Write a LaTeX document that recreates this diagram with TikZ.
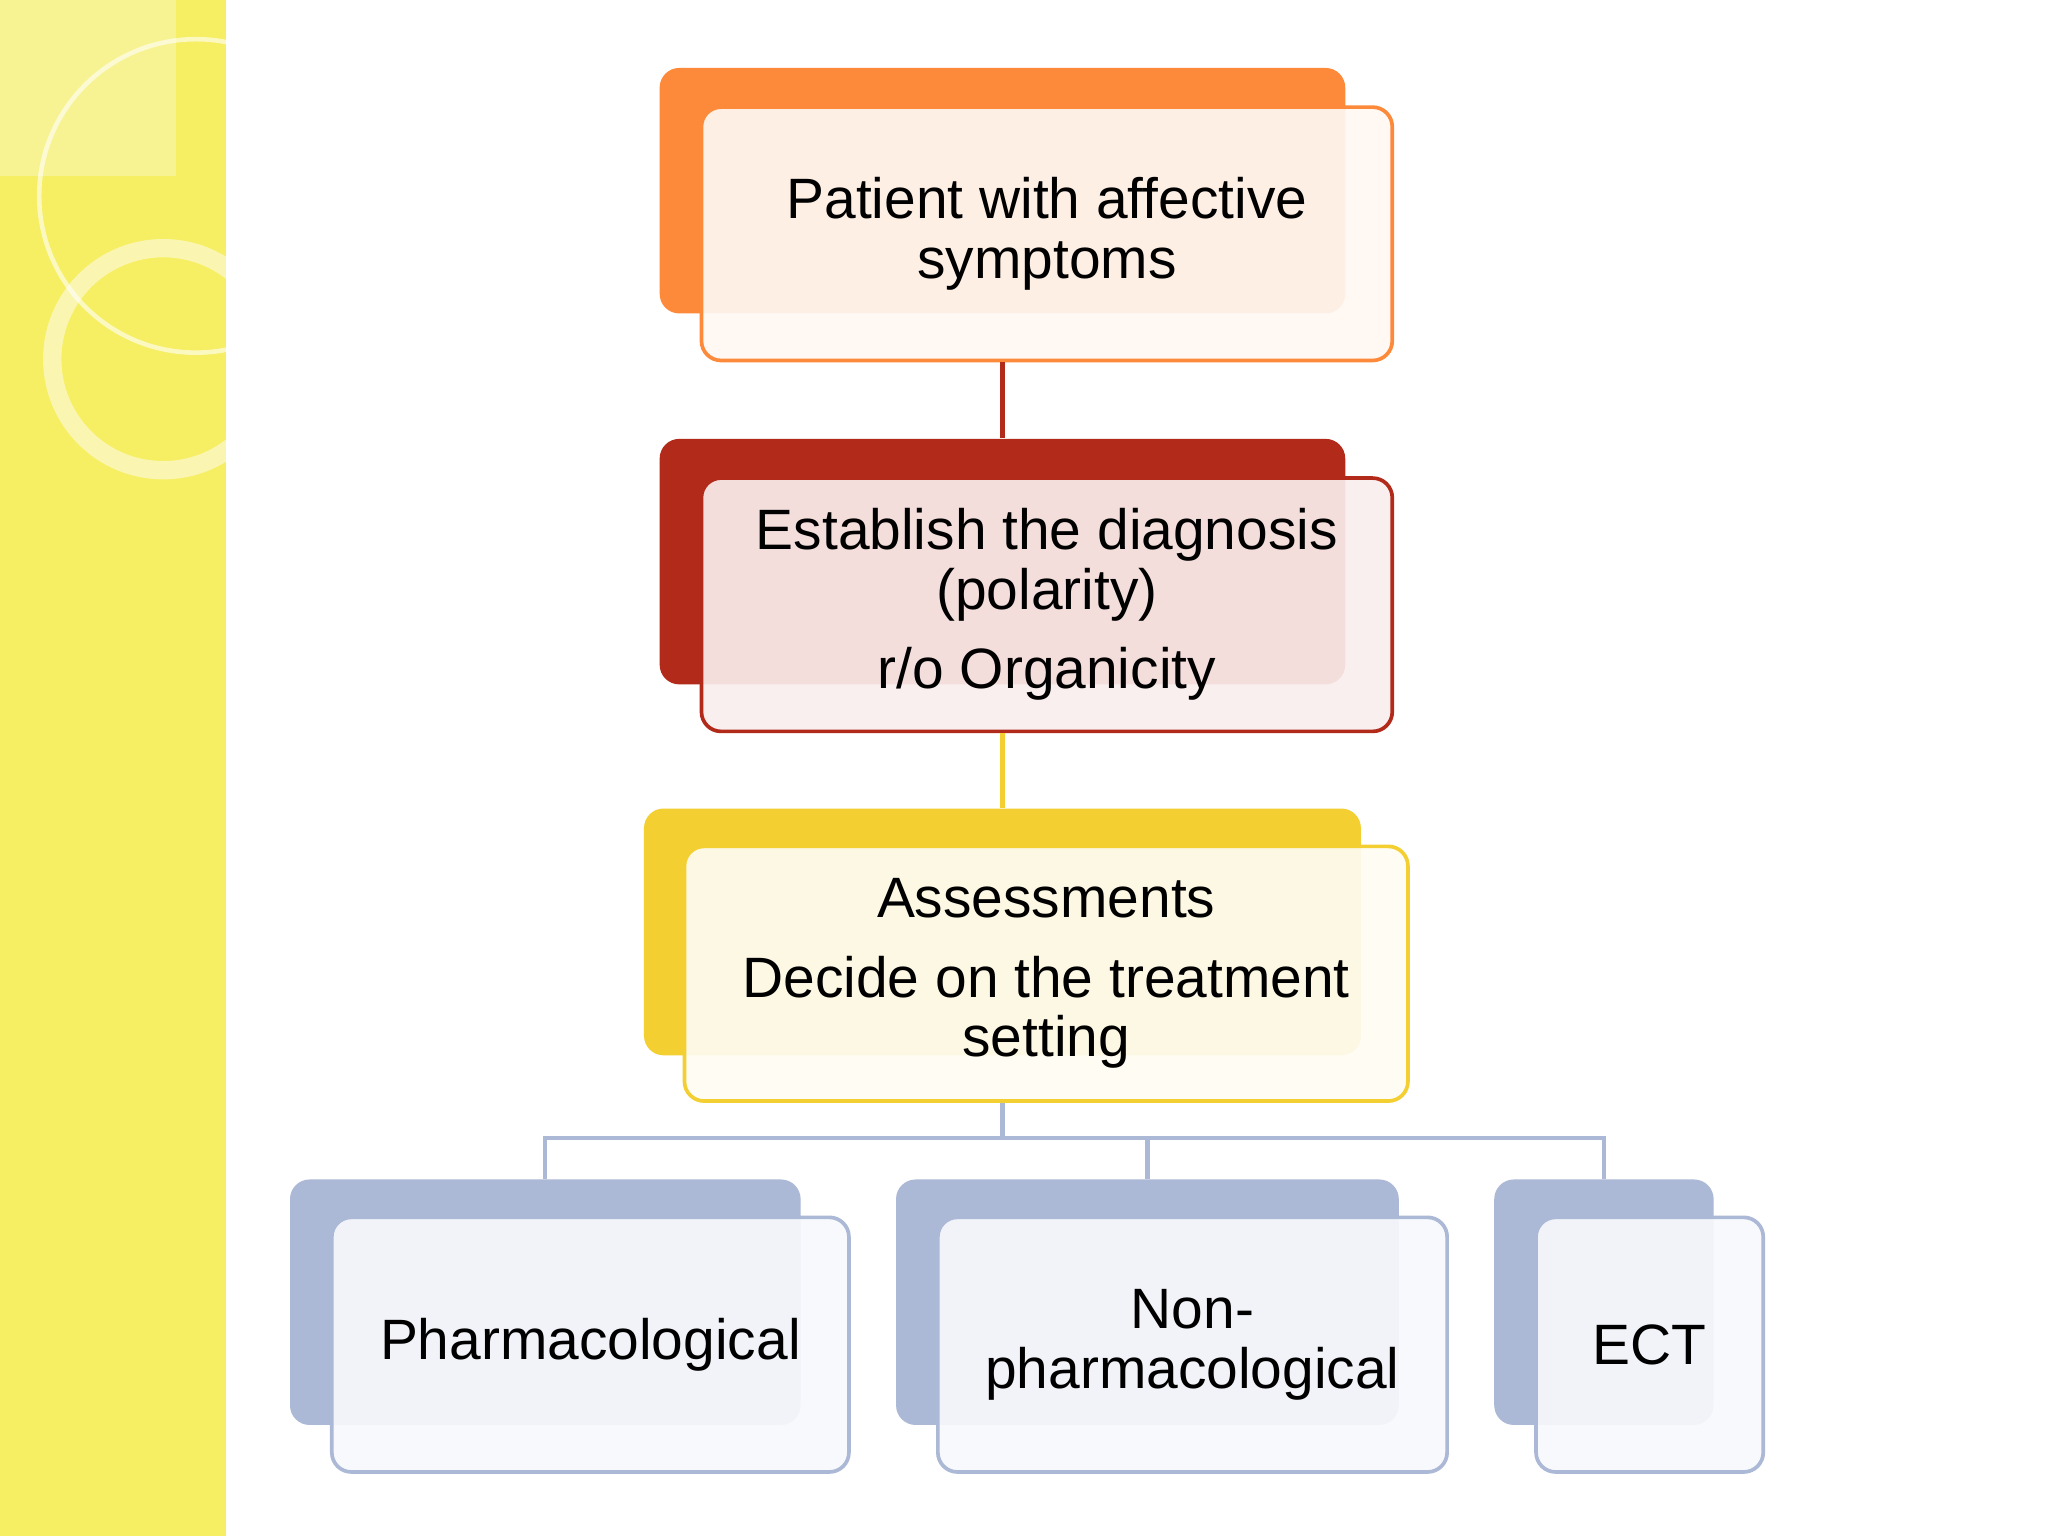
\documentclass[tikz,border=0pt]{standalone}
\usepackage{fontspec}
\setmainfont{Liberation Sans}
\begin{document}
\begin{tikzpicture}[x=0.02cm,y=-0.02cm,
  back/.style={rectangle,rounded corners=0.3cm,inner sep=0,draw=none},
  front/.style={rectangle,rounded corners=0.3cm,line width=1.6pt,inner sep=0,text opacity=1,align=center,font=\fontsize{24.8}{26}\selectfont},
  conn/.style={line width=1.8pt}]
\useasboundingbox (0,0) rectangle (1568,1176);
\fill[white] (0,0) rectangle (1568,1176);
% left strip
\definecolor{strip}{HTML}{F6EE63}
\fill[strip] (0,0) rectangle (173,1176);
\begin{scope}
\clip (0,0) rectangle (173,1176);
\fill[white,opacity=0.3] (0,0) rectangle (135,135);
\draw[white,opacity=0.6,line width=2pt] (150,150) circle (120);
\draw[white,opacity=0.5,line width=8pt] (125,275) circle (85);
\end{scope}
\definecolor{c1}{HTML}{FD8A3B}\definecolor{c2}{HTML}{B22A1A}\definecolor{c3}{HTML}{F3CF31}\definecolor{c4}{HTML}{ABB8D6}
% box 1
\node[back,fill=c1,minimum width=10.5cm,minimum height=3.76cm] (b1) at (767.5,146) {};
\node[front,draw=c1,fill=c1!6,fill opacity=0.92,minimum width=10.58cm,minimum height=3.88cm] (f1) at (801.5,179) {Patient with affective\\symptoms};
% box 2
\node[back,fill=c2,minimum width=10.5cm,minimum height=3.76cm] (b2) at (767.5,430) {};
\node[front,draw=c2,fill=c2!8,fill opacity=0.92,minimum width=10.58cm,minimum height=3.88cm] (f2) at (801.5,463) {Establish the diagnosis\\(polarity)\\[0.3cm]r/o Organicity};
% box 3
\node[back,fill=c3,minimum width=10.98cm,minimum height=3.78cm] (b3) at (767.5,713.5) {};
\node[front,draw=c3,fill=c3!6,fill opacity=0.92,minimum width=11.08cm,minimum height=3.9cm] (f3) at (801,745.5) {Assessments\\[0.3cm]Decide on the treatment\\setting};
% bottom
\node[back,fill=c4,minimum width=7.82cm,minimum height=3.76cm] (pb) at (417.5,997) {};
\node[front,draw=c4,fill=c4!8,fill opacity=0.92,minimum width=7.92cm,minimum height=3.9cm] (pf) at (452,1029.5) {Pharmacological};
\node[back,fill=c4,minimum width=7.7cm,minimum height=3.76cm] (nb) at (878.5,997) {};
\node[front,draw=c4,fill=c4!8,fill opacity=0.92,minimum width=7.8cm,minimum height=3.9cm] (nf) at (913,1029.5) {Non-\\pharmacological};
\node[back,fill=c4,minimum width=3.36cm,minimum height=3.76cm] (eb) at (1228,997) {};
\node[front,draw=c4,fill=c4!8,fill opacity=0.92,minimum width=3.48cm,minimum height=3.9cm] (ef) at (1263,1029.5) {ECT};
% connectors
\draw[conn,c2] (f1.south -| b2.north) -- (b2.north);
\draw[conn,c3] (f2.south -| b3.north) -- (b3.north);
\coordinate (j) at (767.5,871);
\draw[conn,c4] (f3.south -| b3.north) -- (j);
\draw[conn,c4] (j) -| (pb.north);
\draw[conn,c4] (j) -| (nb.north);
\draw[conn,c4] (j) -| (eb.north);
\end{tikzpicture}
\end{document}
